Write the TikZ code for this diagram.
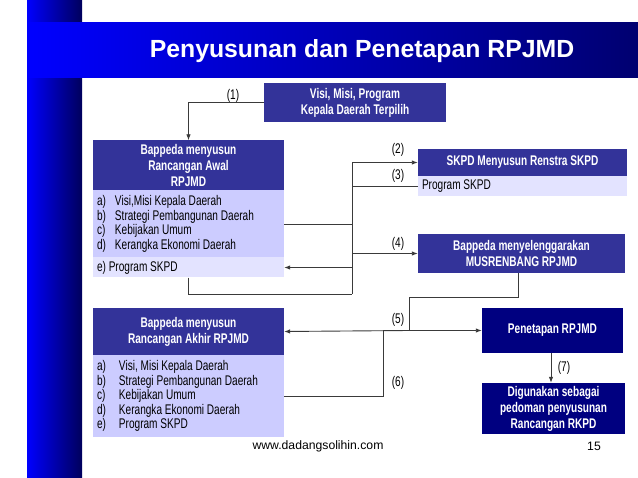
\documentclass[tikz,border=0pt]{standalone}
\usepackage{fontspec}
\setmainfont{Liberation Sans}
\newfontfamily\narrowfont[FakeStretch=0.72]{Liberation Sans}
\newfontfamily\narrowboldfont[FakeStretch=0.72]{Liberation Sans}
\usetikzlibrary{arrows.meta}
\newcommand\natsp{\spaceskip=0pt\xspaceskip=0pt\relax}
\definecolor{hdr}{HTML}{333399}
\definecolor{navybox}{HTML}{000080}
\definecolor{lav}{HTML}{CCCCFF}
\definecolor{lavlight}{HTML}{E3E3FF}
\definecolor{linecol}{HTML}{3A3A3A}
\definecolor{barblue}{HTML}{0000FF}
\definecolor{barmid}{HTML}{0000D2}
\definecolor{bardark}{HTML}{00005C}
\definecolor{bandmid}{HTML}{0000C4}
\definecolor{banddark}{HTML}{000070}
\begin{document}
\begin{tikzpicture}[x=1pt,y=-1pt,
  hdrbox/.style={fill=hdr, text=white, inner sep=0pt, align=center,
    font=\narrowboldfont\bfseries\fontsize{14}{16}\selectfont},
  navbox/.style={fill=navybox, text=white, inner sep=0pt, align=center,
    font=\narrowboldfont\bfseries\fontsize{14}{16}\selectfont},
  listbox/.style={fill=lav, inner sep=0pt, align=left,
    font=\narrowfont\fontsize{14}{14.6}\selectfont},
  lightbox/.style={fill=lavlight, inner sep=0pt, align=left,
    font=\narrowfont\fontsize{14}{14.6}\selectfont},
  conn/.style={draw=linecol, line width=0.9pt},
  arr/.style={conn, -{Latex[length=6pt,width=4.5pt]}},
  numlbl/.style={inner sep=0pt, font=\narrowfont\fontsize{14}{14}\selectfont},
  foot/.style={inner sep=0pt, font=\fontsize{12.2}{15}\selectfont}
]
\useasboundingbox (0,0) rectangle (638,478);
% left bar and title band
\shade[left color=barblue, middle color=barmid, right color=bardark] (27,0) rectangle (82,478);
\shade[left color=barblue, middle color=bandmid, right color=banddark] (27,23) rectangle (638,78);
\node[text=white, inner sep=0pt, font=\bfseries\fontsize{24.8}{28}\selectfont] (title) at (362,51) {Penyusunan dan Penetapan RPJMD};

% boxes
\node[hdrbox, minimum width=182pt, minimum height=39pt] (visi) at (355,102.5) {Visi, Misi, Program\\Kepala Daerah Terpilih};

\node[hdrbox, minimum width=191pt, minimum height=50pt] (awalH) at (188.5,165.5) {Bappeda menyusun\\Rancangan Awal\\RPJMD};
\node[listbox, minimum width=191pt, minimum height=67pt, text width=183pt] (awalL) at (188.5,224) {\natsp
\makebox[18pt][l]{a)}Visi,Misi Kepala Daerah\\
\makebox[18pt][l]{b)}Strategi Pembangunan Daerah\\
\makebox[18pt][l]{c)}Kebijakan Umum\\
\makebox[18pt][l]{d)}Kerangka Ekonomi Daerah\\[-2pt]};
\node[lightbox, minimum width=191pt, minimum height=20pt, text width=183pt] (awalE) at (188.5,267.5) {\natsp e) Program SKPD};

\node[hdrbox, minimum width=209pt, minimum height=27pt] (skpdH) at (522.5,162.5) {SKPD Menyusun Renstra SKPD};
\node[lightbox, minimum width=209pt, minimum height=20pt, text width=201pt] (skpdP) at (522.5,186) {\natsp Program SKPD};

\node[hdrbox, minimum width=207pt, minimum height=39pt] (mus) at (521.5,253.5) {Bappeda menyelenggarakan\\MUSRENBANG RPJMD};

\node[hdrbox, minimum width=191pt, minimum height=47pt] (akhirH) at (188.5,331.5) {Bappeda menyusun\\Rancangan Akhir RPJMD};
\node[listbox, minimum width=191pt, minimum height=82pt, text width=183pt] (akhirL) at (188.5,396) {\natsp
\makebox[22pt][l]{a)}Visi, Misi Kepala Daerah\\
\makebox[22pt][l]{b)}Strategi Pembangunan Daerah\\
\makebox[22pt][l]{c)}Kebijakan Umum\\
\makebox[22pt][l]{d)}Kerangka Ekonomi Daerah\\
\makebox[22pt][l]{e)}Program SKPD\\[-3pt]};

\node[navbox, minimum width=141pt, minimum height=45pt] (pen) at (552.5,330.5) {Penetapan RPJMD};
\node[navbox, minimum width=143pt, minimum height=51pt] (dig) at (553.5,408.5) {Digunakan sebagai\\pedoman penyusunan\\Rancangan RKPD};

% connector coordinates
\coordinate (tTop) at (352,162.5);
\coordinate (tBot) at (352,294);
\coordinate (mJoin) at (409,297);
\coordinate (c6) at (383,396);

% (1)
\draw[arr] (visi.west) -| (awalH.north);
\node[numlbl] (l1) at (233,96) {(1)};
% trunk
\draw[conn] (tTop) -- (tBot);
\draw[conn] (awalL.east) -- (awalL.east -| tTop);
\draw[arr] (tTop) -- (skpdH.west);
\draw[conn] (skpdP.west) -- (skpdP.west -| tTop);
\draw[arr] (tTop |- mus.west) -- (mus.west);
\draw[arr] (tTop |- awalE.east) -- (awalE.east);
\draw[conn] (awalE.south) |- (tBot);
\node[numlbl] (l2) at (398,150) {(2)};
\node[numlbl] (l3) at (398,176) {(3)};
\node[numlbl] (l4) at (398,244) {(4)};
% musrenbang to penetapan / akhir
\draw[conn] ([xshift=-3pt]mus.south) |- (mJoin) -- (mJoin |- pen.west);
\draw[arr] (mJoin |- pen.west) -- (pen.west);
\draw[arr] (mJoin |- pen.west) -- (akhirH.east);
\draw[conn] (akhirL.east) -- (c6) -- (c6 |- pen.west);
\node[numlbl] (l5) at (398,320) {(5)};
\node[numlbl] (l6) at (398,383) {(6)};
% (7)
\draw[arr] ([xshift=-1.5pt]pen.south) -- ([xshift=-1.5pt]pen.south |- dig.north);
\node[numlbl] (l7) at (564,368) {(7)};

% footer
\node[foot] (url) at (318,446) {www.dadangsolihin.com};
\node[foot] (pg) at (594,446) {15};
\end{tikzpicture}
\end{document}
